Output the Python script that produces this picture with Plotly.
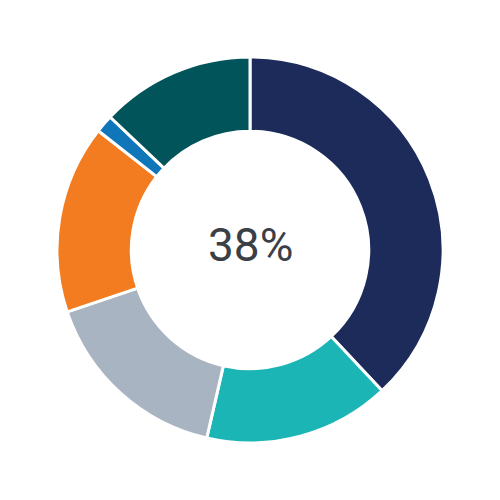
import plotly.graph_objects as go

# slice order: clockwise from 12 o'clock
labels = ["A", "B", "C", "D", "E", "F"]
values = [38.0, 15.6, 16.2, 15.8, 1.5, 12.9]
colors = ["#1d2b5a", "#1bb5b6", "#a9b4c2", "#f37b20", "#0f76b9", "#00545a"]
center_text = "38%"

fig = go.Figure(
    go.Pie(
        labels=labels,
        values=values,
        hole=0.615,
        sort=False,
        direction="clockwise",
        rotation=0,
        textinfo="none",
        hoverinfo="label+percent",
        marker=dict(colors=colors, line=dict(color="white", width=3)),
        showlegend=False,
    )
)

fig.add_annotation(
    text=center_text,
    x=0.5, y=0.5, xref="paper", yref="paper",
    yshift=5,
    showarrow=False,
    font=dict(family="Roboto", size=46, color="#3b4046"),
)

# page body adds ~8px offset, so margins are skewed to keep the ring centred
fig.update_layout(
    width=500,
    height=500,
    margin=dict(l=49, r=65, t=49, b=65),
    paper_bgcolor="white",
    plot_bgcolor="white",
)

fig.write_html("out.html")
